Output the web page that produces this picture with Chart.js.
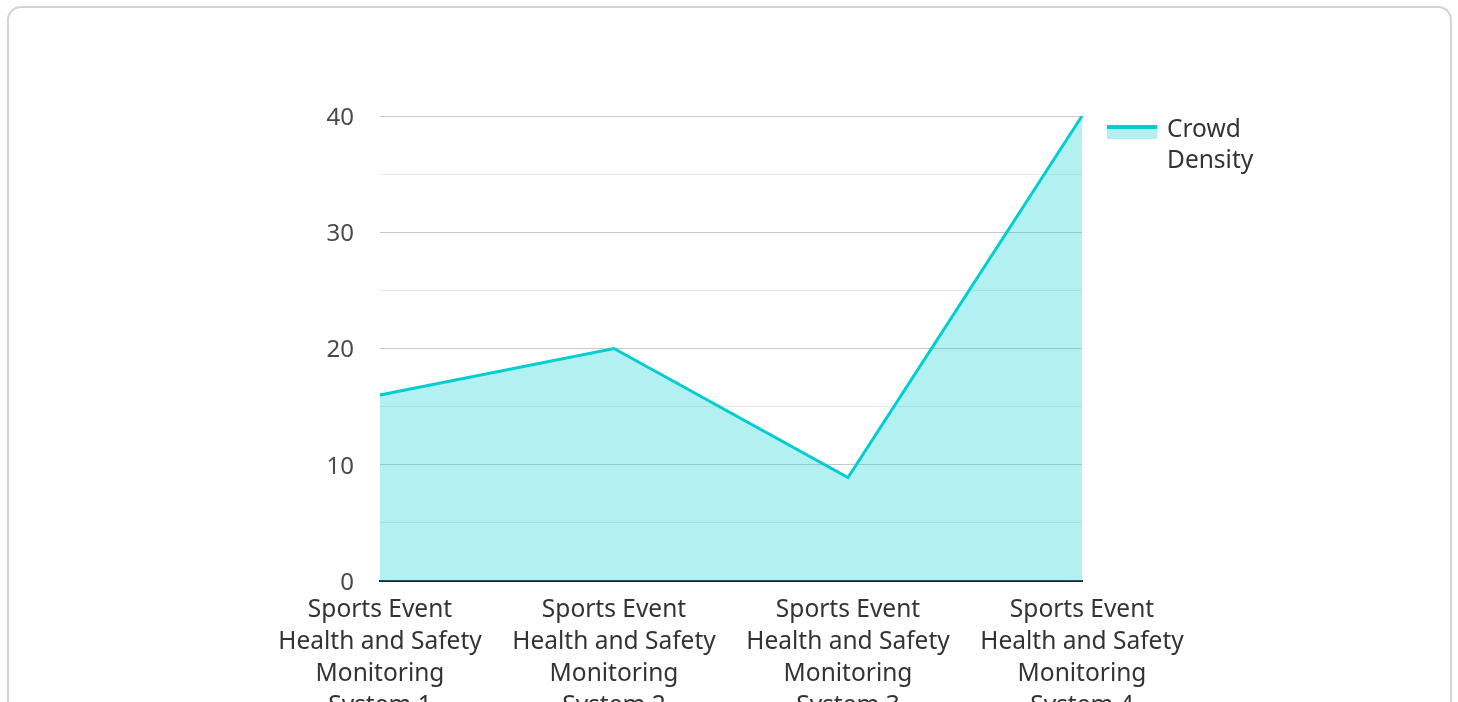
<!DOCTYPE html>
<html>
<head>
<meta charset="utf-8">
<script src="https://cdn.jsdelivr.net/npm/chart.js@4/dist/chart.umd.min.js"></script>
<style>
  html, body { margin: 0; padding: 0; background: #fff; overflow: hidden; }
  body { width: 1458px; height: 702px; position: relative; font-family: "Noto Sans", sans-serif; }
  .card {
    position: absolute; left: 7px; top: 6px; width: 1441px; height: 760px;
    border: 2px solid #d4d4d4; border-radius: 14px; background: #fff;
  }
  #chart { position: absolute; left: 0; top: 0; }
  .legend {
    position: absolute; left: 1107px; top: 112px;
    display: flex; align-items: flex-start; color: #333;
    font-size: 24.5px; line-height: 31px;
  }
  .swatch {
    width: 50px; height: 10px; margin-top: 13px; margin-right: 10px;
    border-top: 4px solid #00CED1; background: rgba(0, 206, 209, 0.3);
  }
</style>
</head>
<body>
<div class="card"></div>
<canvas id="chart" width="1458" height="760"></canvas>
<div class="legend">
  <div class="swatch"></div>
  <div>Crowd<br>Density</div>
</div>
<script>
// data
const categories = [
    ["Sports Event", "Health and Safety", "Monitoring", "System 1"],
    ["Sports Event", "Health and Safety", "Monitoring", "System 2"],
    ["Sports Event", "Health and Safety", "Monitoring", "System 3"],
    ["Sports Event", "Health and Safety", "Monitoring", "System 4"],
];
const seriesLabel = "Crowd Density";
const crowdDensity = [16, 20, 8.9, 40];
const yTicks = [0, 10, 20, 30, 40];

const lineColor = "#00CED1";
const fillColor = "rgba(0, 206, 209, 0.3)";

const ctx = document.getElementById("chart");
new Chart(ctx, {
    type: "line",
    data: {
        labels: categories,
        datasets: [{
            label: seriesLabel,
            data: crowdDensity,
            borderColor: lineColor,
            backgroundColor: fillColor,
            borderWidth: 3,
            fill: "origin",
            tension: 0,
            pointRadius: 0,
            pointHoverRadius: 0,
        }]
    },
    options: {
        responsive: false,
        animation: false,
        layout: { padding: { left: 0, top: 116, right: 376, bottom: 0 } },
        plugins: {
            legend: { display: false },
            tooltip: { enabled: false },
        },
        scales: {
            x: {
                offset: false,
                grid: { display: false },
                border: { display: true, color: "#222", width: 2 },
                ticks: {
                    color: "#333",
                    padding: 5,
                    maxRotation: 0,
                    autoSkip: false,
                    font: { family: "Noto Sans", size: 24.5, lineHeight: 32 / 24.5 },
                },
                afterFit: (scale) => { scale.height = 179; },
            },
            y: {
                min: 0,
                max: 40,
                border: { display: false },
                grid: {
                    drawTicks: false,
                    color: (c) => (yTicks.includes(c.tick.value) ? "#c8c8c8" : "#e8e8e8"),
                    lineWidth: 1,
                },
                ticks: {
                    stepSize: 5,
                    padding: 26,
                    labelOffset: 2,
                    color: "#4a4a4a",
                    font: { family: "Noto Sans", size: 24 },
                    callback: (val) => (yTicks.includes(val) ? String(val) : ""),
                },
                afterFit: (scale) => { scale.width = 380; },
            }
        }
    }
});
</script>
</body>
</html>
